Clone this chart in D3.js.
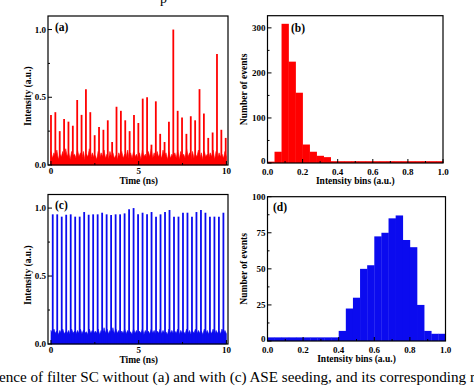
<!DOCTYPE html>
<html>
<head>
<meta charset="utf-8">
<script src="https://cdn.jsdelivr.net/npm/d3@7"></script>
<style>
  body { margin:0; background:#fff; }
  svg { display:block; }
  text { font-family:"Liberation Serif","Times New Roman",serif; }
</style>
</head>
<body>
<div id="container"></div>
<script>
// pulse trains (peak intensity of each pulse, a.u.)
var spikesA = [0.37,0.39,0.25,0.34,0.32,0.29,0.48,0.37,0.56,0.39,
	0.22,0.28,0.26,0.33,0.17,0.43,0.40,0.33,0.25,0.37,
	0.31,0.49,0.50,0.15,0.47,0.23,0.17,0.32,1.00,0.40,
	0.35,0.23,0.36,0.33,0.56,0.38,0.20,0.24,0.82,0.26,0.20];
var spikesC = [0.954,0.954,0.937,0.951,0.954,0.937,0.937,0.971,0.951,0.954,
	0.954,0.966,0.954,0.949,0.954,0.954,0.961,0.991,1.000,0.954,
	0.966,0.954,0.971,0.937,0.954,0.971,0.986,0.937,0.937,0.966,
	0.966,0.937,0.971,0.986,0.966,0.937,0.937,0.937,0.966];
var pulseStartA = 0.0, pulsePeriodA = 0.249;
var pulseStartC = 0.1, pulsePeriodC = 0.256;

// background noise envelope, spread evenly over 0-10 ns
var noiseA = [0.10,0.05,0.09,0.06,0.11,0.04,0.08,0.06,0.10,0.05,0.12,0.06,0.09,0.04,0.10,0.07,0.08,0.05,0.11,0.06,
	0.09,0.05,0.10,0.04,0.08,0.06,0.12,0.05,0.09,0.06,0.07,0.04,0.10,0.05,0.09,0.06,0.11,0.05,0.08,0.04,
	0.10,0.06,0.09,0.05,0.07,0.04,0.09,0.06,0.10,0.05,0.08,0.06,0.11,0.04,0.09,0.05,0.10,0.06,0.08,0.05,
	0.09,0.04,0.11,0.06,0.08,0.05,0.10,0.06,0.12,0.05,0.09,0.04,0.10,0.06,0.08,0.05,0.11,0.06,0.09,0.04,
	0.10,0.05,0.08,0.06,0.09,0.05,0.11,0.04,0.10,0.06,0.08,0.05,0.12,0.06,0.09,0.04,0.10,0.05,0.08,0.06,
	0.11,0.05,0.09,0.04,0.10,0.06,0.08,0.05,0.09,0.06,0.11,0.04,0.10,0.05,0.09,0.06,0.08,0.05,0.10,0.06];
var noiseC = [0.10,0.075,0.11,0.08,0.095,0.07,0.10,0.08,0.11,0.075,0.09,0.08,0.10,0.07,0.11,0.08,0.095,0.075,0.10,0.08,
	0.11,0.075,0.10,0.08,0.09,0.07,0.11,0.08,0.10,0.075,0.095,0.08,0.11,0.07,0.10,0.08,0.12,0.08,0.11,0.075,
	0.10,0.08,0.12,0.075,0.11,0.08,0.10,0.07,0.095,0.08,0.11,0.075,0.10,0.08,0.09,0.07,0.11,0.08,0.10,0.075,
	0.095,0.08,0.11,0.07,0.10,0.08,0.095,0.075,0.11,0.08,0.10,0.07,0.095,0.08,0.11,0.075,0.10,0.08,0.09,0.07,
	0.11,0.08,0.10,0.075,0.095,0.08,0.11,0.07,0.10,0.08,0.09,0.075,0.11,0.08,0.10,0.07,0.095,0.08,0.11,0.075,
	0.10,0.08,0.095,0.07,0.11,0.08,0.10,0.075,0.09,0.08,0.11,0.07,0.10,0.08,0.095,0.075,0.11,0.08,0.10,0.075];

// histograms, bins of 0.04 a.u. from 0 to 1
var binWidth = 0.04;
var countsB = [3,25,309,225,156,41,25,16,13,4,4,4,4,4,4,4,4,4,4,4,4,4,4,4,4];
var countsD = [2.5,2.5,2.5,2.5,2.5,2.5,2.5,2.5,2.5,2.5,
	7,22.5,30,50,52.5,72.5,75,85,87,70,65,25,7,5,5];

var timeTicks = [0,5,10];
var intensityTicks = [0,0.5,1.0];
var binTicks = [0,0.2,0.4,0.6,0.8,1.0];
var countTicksB = [0,100,200,300];
var countTicksD = [0,25,50,75,100];

var RED = '#ff0000', BLUE = '#0b0bef';

var vis = {
	w:474,
	h:389,

	generate:function(){
		var self = vis;
		self.svg = d3.select('#container').append('svg')
			.attr('width',self.w)
			.attr('height',self.h);

		self.trace({label:'(a)', x0:48, x1:228, y0:16, y1:165, xd:[-0.17,10.09], yd:[0,1.1],
			spikes:spikesA, t0:pulseStartA, dt:pulsePeriodA, noise:noiseA, color:RED, yTitleY:96});
		self.trace({label:'(c)', x0:48, x1:228, y0:194.5, y1:344, xd:[-0.17,10.09], yd:[0,1.1],
			spikes:spikesC, t0:pulseStartC, dt:pulsePeriodC, noise:noiseC, color:BLUE, yTitleY:275});
		self.hist({label:'(b)', x0:267.5, x1:443, y0:15.7, y1:163, yd:[0,327],
			counts:countsB, ticks:countTicksB, color:RED, labelX:291, labelY:31.5});
		self.hist({label:'(d)', x0:267.5, x1:445.5, y0:196.7, y1:341, yd:[0,100],
			counts:countsD, ticks:countTicksD, color:BLUE, labelX:273, labelY:211});

		// fragments of the surrounding page text
		self.svg.append('text')
			.attr('x',160).attr('y',3)
			.style('font-size','14px')
			.text('p');
		self.svg.append('text')
			.attr('x',-1).attr('y',382)
			.style('font-size','15px')
			.attr('textLength',476)
			.attr('lengthAdjust','spacingAndGlyphs')
			.text('ence of filter SC without (a) and with (c) ASE seeding, and its corresponding r');
	},

	axes:function(g,p,x,y,xticks,xminor,yticks,yminor,xfmt,yfmt){
		// inward major/minor ticks, Origin style
		g.selectAll('line.xt').data(xticks.concat(xminor)).enter().append('line')
			.attr('x1',function(d){ return x(d); }).attr('x2',function(d){ return x(d); })
			.attr('y1',p.y1)
			.attr('y2',function(d){ return p.y1 -(xticks.indexOf(d)>=0 ? 4 : 2); })
			.attr('stroke','#000').attr('stroke-width',1);
		g.selectAll('line.yt').data(yticks.concat(yminor)).enter().append('line')
			.attr('y1',function(d){ return y(d); }).attr('y2',function(d){ return y(d); })
			.attr('x1',p.x0)
			.attr('x2',function(d){ return p.x0 +(yticks.indexOf(d)>=0 ? 4 : 2); })
			.attr('stroke','#000').attr('stroke-width',1);
		g.selectAll('text.xl').data(xticks).enter().append('text')
			.attr('x',function(d){ return x(d); })
			.attr('y',p.y1 +p.xlOff)
			.attr('text-anchor','middle')
			.style('font-size','9px').style('font-weight','bold')
			.text(xfmt);
		g.selectAll('text.yl').data(yticks).enter().append('text')
			.attr('x',p.x0 -2)
			.attr('y',function(d,i){ return y(d) +(i===0 ? p.y0Off : 3); })
			.attr('text-anchor','end')
			.style('font-size','9px').style('font-weight','bold')
			.text(yfmt);
		g.append('rect')
			.attr('x',p.x0).attr('y',p.y0)
			.attr('width',p.x1 -p.x0).attr('height',p.y1 -p.y0)
			.attr('fill','none').attr('stroke','#000').attr('stroke-width',1.2);
		g.append('text')
			.attr('x',p.labelX).attr('y',p.labelY)
			.style('font-size','11.5px').style('font-weight','bold')
			.text(p.label);
	},

	trace:function(p){
		var self = vis;
		var g = self.svg.append('g');
		var x = d3.scaleLinear().domain(p.xd).range([p.x0,p.x1]);
		var y = d3.scaleLinear().domain(p.yd).range([p.y1,p.y0]);

		var n = p.noise.length;
		var area = d3.area()
			.x(function(d,i){ return x(i*10/(n-1)); })
			.y0(y(0))
			.y1(function(d){ return y(d); });
		g.append('path').datum(p.noise)
			.attr('d',area)
			.attr('fill',p.color)
			.attr('stroke',p.color).attr('stroke-width',0.6);

		g.selectAll('line.spike').data(p.spikes).enter().append('line')
			.attr('x1',function(d,i){ return x(p.t0 +i*p.dt); })
			.attr('x2',function(d,i){ return x(p.t0 +i*p.dt); })
			.attr('y1',y(0))
			.attr('y2',function(d){ return y(d); })
			.attr('stroke',p.color).attr('stroke-width',1.8);

		p.labelX = 55; p.labelY = p.y0 +14.5; p.xlOff = 9; p.y0Off = 3;
		self.axes(g,p,x,y,timeTicks,[2.5,7.5],intensityTicks,[0.25,0.75],
			function(d){ return d; }, d3.format('.1f'));

		g.append('text')
			.attr('x',(x(0)+x(10))/2).attr('y',p.y1 +19)
			.attr('text-anchor','middle')
			.style('font-size','9.5px').style('font-weight','bold')
			.text('Time (ns)');
		g.append('text')
			.attr('transform','translate(31,'+p.yTitleY+') rotate(-90)')
			.attr('text-anchor','middle')
			.style('font-size','9.5px').style('font-weight','bold')
			.text('Intensity (a.u.)');
	},

	hist:function(p){
		var self = vis;
		var g = self.svg.append('g');
		var x = d3.scaleLinear().domain([0,1]).range([p.x0,p.x1]);
		var y = d3.scaleLinear().domain(p.yd).range([p.y1,p.y0]);

		g.selectAll('rect.bar').data(p.counts).enter().append('rect')
			.attr('x',function(d,i){ return x(i*binWidth); })
			.attr('width',function(d,i){ return x((i+1)*binWidth) -x(i*binWidth) +0.3; })
			.attr('y',function(d){ return y(d); })
			.attr('height',function(d){ return y(0) -y(d); })
			.attr('fill',p.color);

		var step = p.ticks[1] -p.ticks[0];
		var yminor = p.ticks.slice(0,-1).map(function(d){ return d +step/2; });
		p.xlOff = 12; p.y0Off = 1.2;
		self.axes(g,p,x,y,binTicks,[0.1,0.3,0.5,0.7,0.9],p.ticks,yminor,
			d3.format('.1f'), function(d){ return d; });

		g.append('text')
			.attr('x',(p.x0+p.x1)/2).attr('y',p.y1 +20.5)
			.attr('text-anchor','middle')
			.style('font-size','9.5px').style('font-weight','bold')
			.text('Intensity bins (a.u.)');
		g.append('text')
			.attr('transform','translate('+(p.x0 -21)+','+((p.y0+p.y1)/2)+') rotate(-90)')
			.attr('text-anchor','middle')
			.style('font-size','9.5px').style('font-weight','bold')
			.text('Number of events');
	}
};

vis.generate();
</script>
</body>
</html>
